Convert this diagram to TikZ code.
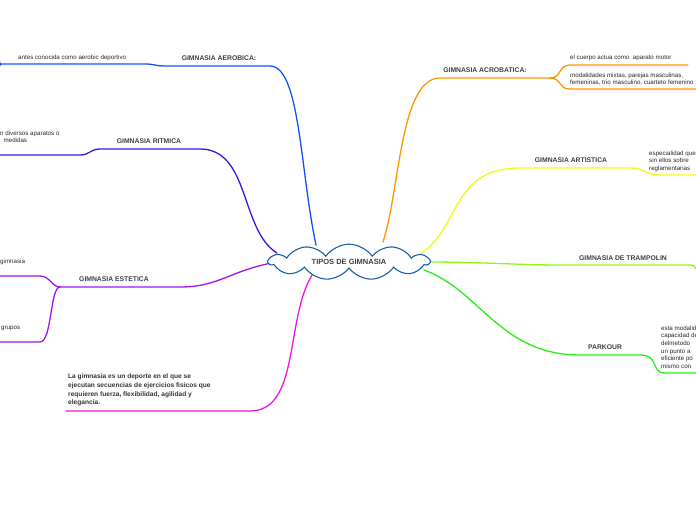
\documentclass[tikz,border=0pt]{standalone}
\usepackage{fontspec}
\setmainfont{Liberation Sans}
\usetikzlibrary{shapes.symbols}
\begin{document}
\begin{tikzpicture}[x=1pt,y=-1pt,
  br/.style={line width=1.3pt,line cap=round},
  ttl/.style={font=\fontsize{6.8}{8}\selectfont\bfseries,text=black!75,inner sep=0},
  sm/.style={font=\fontsize{6.2}{7.6}\selectfont,text=black!85,inner sep=0,align=left,anchor=west}]
\useasboundingbox (0,0) rectangle (696,520);
% branches
\draw[br,color={rgb,255:red,20;green,80;blue,255}] (316,245) .. controls (300,170) and (300,66) .. (270,66) -- (165,66) .. controls (155,66) and (155,64) .. (145,64) -- (2,64);
\fill[color={rgb,255:red,20;green,80;blue,255}] (2,64) -- (-2,60) -- (-2,68) -- cycle;
\draw[br,color={rgb,255:red,60;green,20;blue,230}] (277,253) .. controls (240,230) and (250,149) .. (200,149) -- (100,149) .. controls (90,149) and (90,155) .. (80,155) -- (0,155);
\draw[br,color={rgb,255:red,160;green,20;blue,240}] (277,262) .. controls (230,270) and (220,287) .. (180,287) -- (60,287);
\draw[br,color={rgb,255:red,160;green,20;blue,240}] (60,287) .. controls (52,287) and (50,276) .. (40,276) -- (0,276);
\draw[br,color={rgb,255:red,160;green,20;blue,240}] (60,287) .. controls (50,287) and (52,342) .. (40,342) -- (0,342);
\draw[br,color={rgb,255:red,240;green,20;blue,230}] (312,275) .. controls (285,320) and (300,411) .. (250,411) -- (66,411);
\draw[br,color={rgb,255:red,255;green,150;blue,0}] (383,242) .. controls (400,190) and (400,78) .. (440,78) -- (550,78);
\draw[br,color={rgb,255:red,255;green,150;blue,0}] (550,78) .. controls (562,78) and (558,65) .. (570,65) -- (688,65);
\draw[br,color={rgb,255:red,255;green,150;blue,0}] (550,78) .. controls (562,78) and (558,89) .. (570,89) -- (696,89);
\draw[br,color={rgb,255:red,240;green,250;blue,20}] (420,254) .. controls (460,230) and (450,168) .. (520,168) -- (630,168) .. controls (645,168) and (645,175) .. (660,175) -- (696,175);
\draw[br,color={rgb,255:red,140;green,250;blue,20}] (428,262) .. controls (480,262) and (520,265) .. (560,265) -- (690,265) .. controls (694,265) and (696,267) .. (697,270);
\draw[br,color={rgb,255:red,40;green,240;blue,20}] (424,270) .. controls (480,290) and (500,355) .. (580,355) -- (640,355) .. controls (660,355) and (650,373) .. (665,373) -- (696,373);
% cloud
\node[cloud,cloud puffs=11,cloud puff arc=110,aspect=5,draw={rgb,255:red,25;green,95;blue,170},line width=1.1pt,fill=white,minimum width=160,minimum height=34,inner sep=0,font=\fontsize{7.5}{9}\selectfont\bfseries,text=black!75] (center) at (349,262) {TIPOS DE GIMNASIA};
% titles
\node[ttl] (aer) at (219,58) {GIMNASIA AEROBICA:};
\node[ttl] (rit) at (149,141) {GIMNASIA RITMICA};
\node[ttl] (est) at (114,279) {GIMNASIA ESTETICA};
\node[ttl] (acr) at (485,70) {GIMNASIA ACROBATICA:};
\node[ttl] (art) at (571,160) {GIMNASIA ARTISTICA};
\node[ttl] (tra) at (623,258) {GIMNASIA DE TRAMPOLIN};
\node[ttl] (par) at (605,347) {PARKOUR};
% texts
\node[sm] (t1) at (18,58) {antes conocida como aerobic deportivo};
\node[sm] (t2) at (0,137) {n diversos aparatos o\\[-1pt]\ \ medidas};
\node[sm] (t3) at (0,262) {gimnasia};
\node[sm] (t4) at (0,328) {\,grupos};
\node[sm,font=\fontsize{6.6}{8.6}\selectfont\bfseries,text=black!80] (t5) at (68,390) {La gimnasia es un deporte en el que se\\ejecutan secuencias de ejercicios fisicos que\\requieren fuerza, flexibilidad, agilidad y\\elegancia.};
\node[sm] (t6) at (570,58) {el cuerpo actua como\ \ aparato motor};
\node[sm] (t7) at (570,79) {modalidades mixtas, parejas masculinas,\\femeninas, trio masculino, cuarteto femenino};
\node[sm] (t8) at (649,161) {especialidad que\\sin ellos sobre\\reglamentarias};
\node[sm] (t9) at (661,347) {esta modalidad\\capacidad de\\delmetodo\\un punto a\\eficiente po\\mismo con};
\end{tikzpicture}
\end{document}
